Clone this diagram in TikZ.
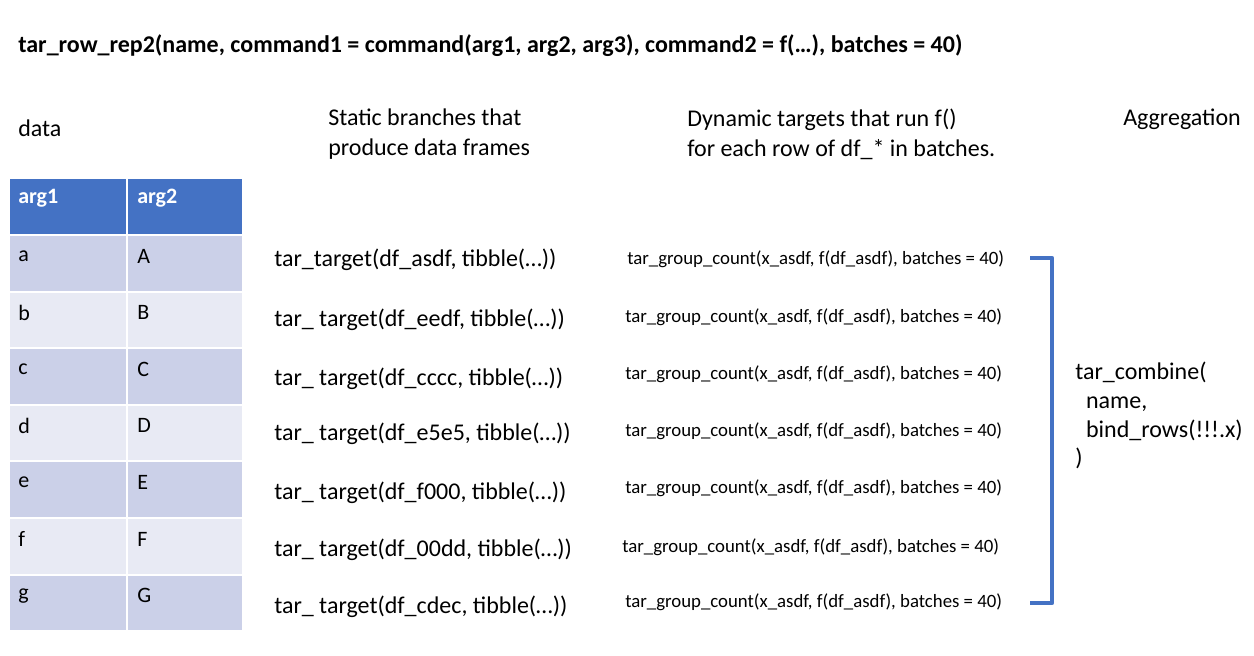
\documentclass[tikz,border=0pt]{standalone}
\usepackage{fontspec}
\setmainfont{Carlito}
\definecolor{hdr}{HTML}{4472C4}
\definecolor{rowA}{HTML}{CBD0E8}
\definecolor{rowB}{HTML}{E8EAF4}
\begin{document}
\begin{tikzpicture}[x=0.75pt,y=-0.75pt,
  txt/.style={anchor=west,inner sep=0pt,font=\fontsize{18}{22.5}\selectfont},
  small/.style={anchor=west,inner sep=0pt,font=\fontsize{14.1}{17}\selectfont},
  cell/.style={anchor=west,inner sep=0pt,font=\fontsize{16.5}{20}\selectfont}]
\useasboundingbox (0,0) rectangle (1254,656);
\node[txt,font=\bfseries\fontsize{18}{22}\selectfont] (title) at (18,46) {tar\_row\_rep2(name, command1 = command(arg1, arg2, arg3), command2 = f(…), batches = 40)};
\node[txt] (data) at (18,128) {data};
\node[txt,align=left,anchor=north west] (h1) at (328,109) {Static branches that\\produce data frames};
\node[txt,align=left,anchor=north west] (h2) at (687,109) {Dynamic targets that run f()\\for each row of df\_* in batches.};
\node[txt] (h3) at (1123,119) {Aggregation};
% table
\fill[hdr] (10,179) rectangle (126,234);
\fill[hdr] (128,179) rectangle (242,234);
\node[cell,text=white,font=\bfseries\fontsize{16.5}{20}\selectfont] (c0a) at (18,198) {arg1};
\node[cell,text=white,font=\bfseries\fontsize{16.5}{20}\selectfont] (c0b) at (137,198) {arg2};
\foreach \l/\u [count=\i from 0] in {a/A,b/B,c/C,d/D,e/E,f/F,g/G}{
  \pgfmathsetmacro{\ytop}{236+56.6*\i}
  \pgfmathsetmacro{\ybot}{\ytop+54.6}
  \pgfmathparse{mod(\i,2)==0?"rowA":"rowB"}\edef\rc{\pgfmathresult}
  \fill[\rc] (10,\ytop) rectangle (126,\ybot);
  \fill[\rc] (128,\ytop) rectangle (242,\ybot);
  \node[cell] (r\i a) at (18,\ytop+20) {\l};
  \node[cell] (r\i b) at (137,\ytop+20) {\u};
}
% static targets
\foreach \name/\y [count=\i] in {tar\_target(df\_asdf/260, tar\_ target(df\_eedf/320, tar\_ target(df\_cccc/379, tar\_ target(df\_e5e5/434, tar\_ target(df\_f000/493, tar\_ target(df\_00dd/550, tar\_ target(df\_cdec/607}{
  \node[txt] (s\i) at (274,\y) {\name, tibble(…))};
}
\foreach \x/\y [count=\i] in {627/259,625/317,625/374,625/431,625/488,622/547,625/602}{
  \node[small] (d\i) at (\x,\y) {tar\_group\_count(x\_asdf, f(df\_asdf), batches = 40)};
}
% bracket
\coordinate (bt) at (1030,258);
\coordinate (bb) at (1030,603);
\draw[hdr,line width=3.6pt,line join=round] (bt) -- ++(22,0) -- ++(0,345) -- (bb);
\node[txt,align=left,anchor=north west,font=\fontsize{18}{21.5}\selectfont] (agg) at (1075,362) {tar\_combine(\\\ \ name,\\\ \ bind\_rows(!!!.x)\\)};
\end{tikzpicture}
\end{document}
